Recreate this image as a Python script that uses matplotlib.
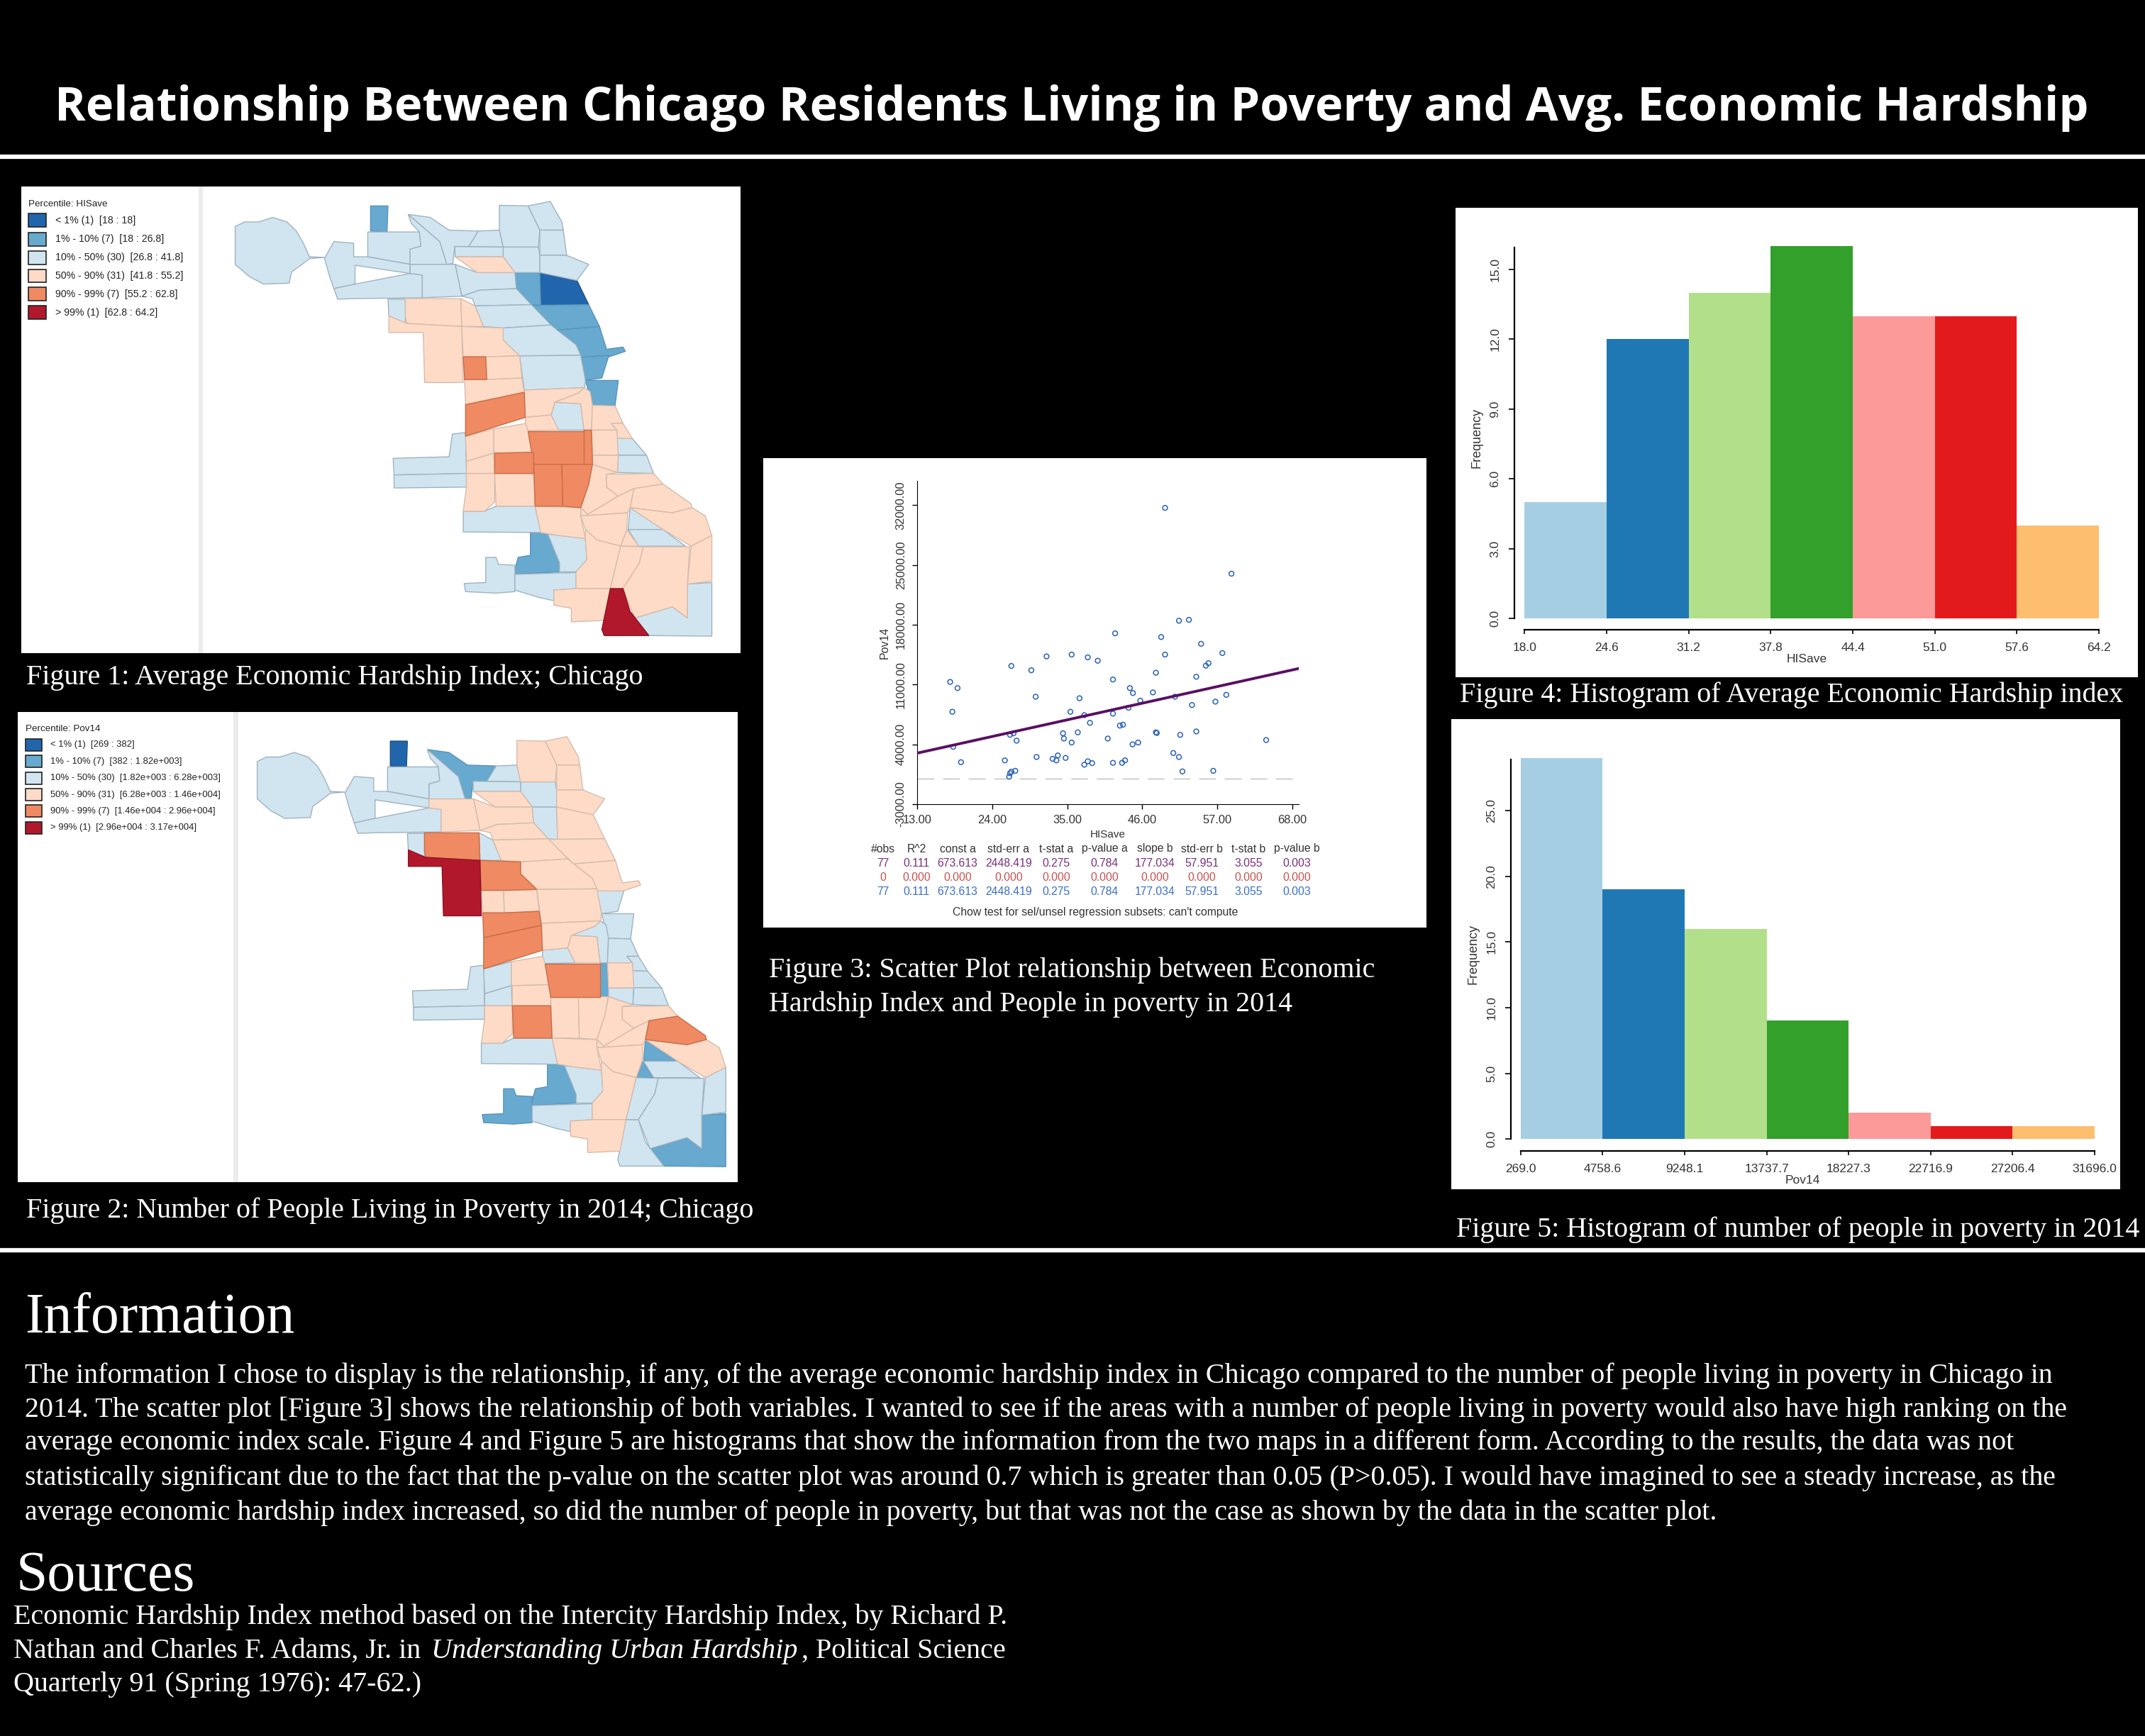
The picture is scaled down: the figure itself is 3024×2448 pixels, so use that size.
import numpy as np
import matplotlib
matplotlib.use("Agg")
import matplotlib.pyplot as plt
from matplotlib.patches import Polygon, Rectangle

W, H = 3024, 2448
SANS = "Liberation Sans"
SERIF = "Liberation Serif"

title = "Relationship Between Chicago Residents Living in Poverty and Avg. Economic Hardship"

# scatter, HISave vs Pov14
hisave = [49.35, 59.09, 51.39, 52.85, 42.03, 48.78, 54.63, 57.75, 49.35, 35.66, 31.97, 38.02, 39.48, 55.72,
          55.33, 26.81, 29.74, 48.01, 53.93, 41.71, 17.84, 18.92, 44.19, 44.64, 47.57, 30.38, 50.81, 58.33,
          36.81, 45.72, 56.73, 53.30, 44.0, 18.16, 35.47, 41.71, 37.51, 38.34, 43.18, 42.73, 36.55, 53.93,
          48.01, 48.14, 27.13, 34.39, 26.62, 51.58, 34.52, 40.95, 27.58, 64.18, 35.66, 45.40, 44.58, 18.28,
          50.56, 33.63, 30.51, 51.39, 34.77, 32.86, 25.86, 33.43, 43.49, 19.43, 38.02, 41.71, 38.66, 43.05,
          37.51, 27.39, 56.42, 51.90, 26.81, 26.62, 26.50]
pov14 = [31684, 23980, 18472, 18580, 16996, 16564, 15772, 14692, 14512, 14512, 14296, 14188, 13792, 13504,
         13216, 13180, 12676, 12388, 11920, 11596, 11308, 10588, 10588, 10012, 10084, 9580, 9580, 9796,
         9400, 9112, 9004, 8608, 8284, 7816, 7816, 7600, 7420, 6520, 6304, 6196, 5404, 5512,
         5404, 5332, 5296, 5296, 5116, 5116, 4684, 4684, 4432, 4504, 4216, 4216, 4000, 3712,
         2992, 2704, 2524, 2524, 2416, 2308, 2128, 2128, 2128, 1912, 2020, 1840, 1804, 1840,
         1624, 904, 904, 832, 796, 616, 220]
const_a = 673.613
slope_b = 177.034
scatter_xticks = [13, 24, 35, 46, 57, 68]
scatter_yticks = [-3000, 4000, 11000, 18000, 25000, 32000]

table_head = ["#obs", "R^2", "const a", "std-err a", "t-stat a", "p-value a", "slope b", "std-err b", "t-stat b", "p-value b"]
table_all = ["77", "0.111", "673.613", "2448.419", "0.275", "0.784", "177.034", "57.951", "3.055", "0.003"]
table_sel = ["0", "0.000", "0.000", "0.000", "0.000", "0.000", "0.000", "0.000", "0.000", "0.000"]
table_unsel = ["77", "0.111", "673.613", "2448.419", "0.275", "0.784", "177.034", "57.951", "3.055", "0.003"]

# histograms
paired = ["#a6cee3", "#1f78b4", "#b2df8a", "#33a02c", "#fb9a99", "#e31a1c", "#fdbf6f"]
hist4_edges = [18.0, 24.6, 31.2, 37.8, 44.4, 51.0, 57.6, 64.2]
hist4_counts = [5, 12, 14, 16, 13, 13, 4]
hist4_yticks = [0, 3, 6, 9, 12, 15]
hist5_edges = [269.0, 4758.6, 9248.1, 13737.7, 18227.3, 22716.9, 27206.4, 31696.0]
hist5_counts = [29, 19, 16, 9, 2, 1, 1]
hist5_yticks = [0, 5, 10, 15, 20, 25]

# maps: community areas, with class per map
class_colors = ["#2166ac", "#67a9cf", "#d1e5f0", "#fddbc7", "#ef8a62", "#b2182b"]
class_edges = ["#1d4f80", "#5a94bb", "#9fb2c1", "#d6bcac", "#c96d48", "#8e1322"]
legend1 = ["< 1% (1)  [18 : 18]", "1% - 10% (7)  [18 : 26.8]", "10% - 50% (30)  [26.8 : 41.8]",
           "50% - 90% (31)  [41.8 : 55.2]", "90% - 99% (7)  [55.2 : 62.8]", "> 99% (1)  [62.8 : 64.2]"]
legend2 = ["< 1% (1)  [269 : 382]", "1% - 10% (7)  [382 : 1.82e+003]", "10% - 50% (30)  [1.82e+003 : 6.28e+003]",
           "50% - 90% (31)  [6.28e+003 : 1.46e+004]", "90% - 99% (7)  [1.46e+004 : 2.96e+004]",
           "> 99% (1)  [2.96e+004 : 3.17e+004]"]

areas = {
    "rogers": [(1093, 72), (1140, 57), (1165, 125), (1168, 152), (1118, 152)],
    "west_ridge": [(1032, 70), (1093, 72), (1118, 152), (1115, 208), (1040, 208), (1032, 152)],
    "edgewater": [(1118, 152), (1168, 152), (1175, 235), (1118, 235)],
    "lincoln_sq": [(1040, 208), (1115, 208), (1118, 235), (1118, 292), (1065, 292), (1040, 240)],
    "uptown": [(1118, 235), (1175, 235), (1222, 265), (1197, 318), (1118, 292)],
    "north_center": [(1065, 292), (1118, 292), (1120, 400), (1100, 398), (1068, 345)],
    "lake_view": [(1118, 292), (1197, 318), (1222, 398), (1120, 400)],
    "lincoln_park": [(1100, 400), (1222, 398), (1245, 470), (1155, 482), (1140, 460)],
    "near_north": [(1155, 482), (1245, 470), (1260, 545), (1295, 538), (1300, 552), (1262, 572), (1205, 572), (1195, 530)],
    "loop": [(1205, 572), (1265, 565), (1250, 640), (1215, 648)],
    "near_south": [(1215, 648), (1285, 648), (1278, 732), (1230, 730)],
    "edison": [(758, 72), (795, 72), (793, 158), (758, 155)],
    "norwood": [(752, 158), (793, 158), (862, 158), (865, 205), (842, 215), (842, 265), (752, 240)],
    "ohare": [(470, 140), (490, 125), (520, 125), (550, 110), (580, 125), (600, 155), (615, 195), (628, 240), (660, 242),
              (628, 246), (615, 262), (590, 290), (585, 327), (530, 330), (500, 305), (470, 265)],
    "ohare_east": [(660, 245), (680, 190), (722, 195), (722, 240), (752, 240), (842, 265), (842, 295), (725, 268), (725, 330),
                   (680, 345), (670, 300)],
    "dunning": [(680, 345), (725, 330), (842, 295), (868, 300), (868, 375), (722, 378), (688, 380)],
    "forest_glen": [(838, 100), (885, 110), (925, 152), (987, 155), (967, 206), (937, 206), (933, 262), (920, 265), (905, 190)],
    "jefferson": [(842, 215), (865, 205), (862, 158), (845, 130), (838, 100), (905, 190), (920, 265), (842, 265)],
    "north_park": [(987, 155), (1032, 152), (1040, 208), (967, 206)],
    "albany": [(937, 206), (1040, 208), (1040, 240), (938, 240)],
    "irving": [(938, 240), (1040, 240), (1065, 292), (985, 292)],
    "avondale": [(938, 265), (985, 292), (1065, 292), (1068, 345), (990, 350), (952, 370)],
    "logan": [(990, 350), (1068, 345), (1100, 398), (980, 402), (975, 378), (952, 370)],
    "portage": [(842, 265), (920, 265), (938, 265), (952, 370), (868, 375), (868, 300), (842, 295)],
    "montclare": [(795, 380), (832, 380), (832, 460), (797, 435)],
    "austin_north": [(832, 378), (950, 378), (952, 470), (835, 460), (832, 440)],
    "austin_south": [(797, 435), (835, 460), (952, 470), (955, 655), (873, 655), (870, 490), (797, 490)],
    "hermosa": [(950, 378), (980, 402), (998, 470), (952, 470)],
    "humboldt_n": [(980, 402), (1100, 398), (1142, 465), (1040, 475), (998, 470)],
    "humboldt": [(952, 470), (1040, 475), (1040, 515), (1075, 567), (1003, 570), (955, 570)],
    "west_town": [(1040, 475), (1142, 465), (1155, 482), (1195, 530), (1205, 565), (1075, 567), (1040, 515)],
    "e_garfield": [(955, 570), (1003, 570), (1005, 645), (958, 645)],
    "n_lawndale": [(1003, 570), (1075, 567), (1080, 640), (1005, 645)],
    "near_west": [(1075, 567), (1205, 565), (1215, 648), (1213, 672), (1085, 680)],
    "lawndale": [(958, 645), (1005, 645), (1080, 640), (1085, 687), (960, 728)],
    "s_lawndale": [(960, 728), (1085, 687), (1087, 770), (960, 832)],
    "lower_west": [(1085, 680), (1213, 672), (1200, 690), (1150, 720), (1142, 762), (1087, 770)],
    "bridgeport": [(1142, 762), (1150, 720), (1205, 725), (1212, 812), (1158, 812)],
    "mckinley": [(1087, 770), (1142, 762), (1158, 812), (1088, 814)],
    "armour": [(1200, 690), (1213, 672), (1225, 685), (1230, 730), (1228, 812), (1212, 812), (1205, 725), (1150, 720)],
    "douglas": [(1230, 730), (1278, 732), (1295, 790), (1270, 790), (1282, 812), (1228, 812)],
    "oakland": [(1270, 790), (1295, 790), (1315, 840), (1282, 838), (1282, 812)],
    "fuller": [(1212, 812), (1228, 812), (1230, 925), (1212, 925)],
    "grand_blvd": [(1228, 812), (1282, 812), (1285, 895), (1230, 895)],
    "kenwood": [(1282, 838), (1315, 840), (1345, 895), (1285, 895)],
    "wash_park": [(1230, 895), (1285, 895), (1283, 952), (1230, 925)],
    "hyde_park": [(1285, 895), (1345, 895), (1360, 955), (1283, 952)],
    "new_city": [(1093, 815), (1212, 815), (1212, 925), (1105, 925)],
    "archer": [(960, 832), (1020, 808), (1020, 888), (962, 915)],
    "brighton": [(1020, 808), (1088, 790), (1093, 815), (1105, 885), (1020, 888)],
    "garfield_n": [(806, 905), (925, 900), (932, 825), (960, 820), (962, 955), (808, 960)],
    "garfield_s": [(808, 960), (962, 955), (962, 1000), (808, 1003)],
    "west_elsdon": [(962, 915), (1020, 888), (1022, 955), (962, 955)],
    "gage_park": [(1022, 888), (1105, 885), (1105, 955), (1022, 955)],
    "west_lawn": [(962, 955), (1022, 955), (1022, 1050), (1000, 1080), (955, 1080), (962, 1000)],
    "ashburn": [(1022, 955), (1105, 955), (1108, 1063), (1025, 1063)],
    "w_englewood": [(1105, 925), (1165, 925), (1167, 1063), (1108, 1063)],
    "englewood": [(1165, 925), (1230, 925), (1222, 990), (1205, 1068), (1167, 1063)],
    "grand_cross": [(1230, 925), (1283, 952), (1260, 958), (1260, 1000), (1285, 1030), (1220, 1090), (1205, 1068), (1222, 990)],
    "south_shore": [(1260, 958), (1360, 955), (1380, 990), (1318, 1005), (1285, 1030), (1260, 1000)],
    "south_shore_e": [(1318, 1005), (1380, 990), (1440, 1055), (1442, 1068), (1400, 1085), (1310, 1068)],
    "chatham": [(1205, 1068), (1220, 1090), (1285, 1030), (1318, 1005), (1310, 1068), (1305, 1085), (1205, 1095)],
    "avalon": [(1310, 1068), (1380, 1140), (1306, 1140)],
    "south_chicago": [(1310, 1068), (1400, 1085), (1442, 1068), (1470, 1095), (1484, 1160), (1440, 1195), (1380, 1140)],
    "burnside": [(1303, 1140), (1328, 1195), (1290, 1195)],
    "calumet": [(1306, 1140), (1380, 1140), (1428, 1195), (1328, 1195)],
    "east_side": [(1440, 1195), (1484, 1160), (1484, 1310), (1432, 1320)],
    "clearing": [(955, 1080), (1000, 1080), (1025, 1063), (1108, 1063), (1120, 1150), (955, 1148)],
    "chicago_lawn": [(1108, 1063), (1205, 1068), (1205, 1095), (1215, 1170), (1160, 1160), (1120, 1150)],
    "auburn": [(1205, 1095), (1305, 1085), (1303, 1140), (1290, 1195), (1240, 1175), (1215, 1140)],
    "morgan_park": [(1215, 1140), (1240, 1175), (1290, 1195), (1268, 1335), (1195, 1335), (1195, 1280), (1218, 1240), (1215, 1170)],
    "beverly": [(1098, 1150), (1135, 1150), (1160, 1250), (1160, 1280), (1062, 1288), (1072, 1232), (1098, 1225)],
    "mt_greenwood": [(957, 1318), (1003, 1315), (1003, 1232), (1025, 1232), (1030, 1255), (1065, 1258), (1065, 1345), (1025, 1350), (960, 1345)],
    "wash_heights": [(1135, 1155), (1215, 1170), (1218, 1240), (1195, 1280), (1160, 1280), (1160, 1250)],
    "morgan_s": [(1065, 1288), (1195, 1282), (1195, 1335), (1148, 1340), (1148, 1375), (1118, 1365), (1065, 1340)],
    "west_pullman": [(1148, 1340), (1195, 1335), (1268, 1335), (1255, 1440), (1185, 1445), (1185, 1400), (1148, 1390)],
    "riverdale": [(1268, 1335), (1295, 1335), (1310, 1410), (1350, 1490), (1255, 1490), (1250, 1470)],
    "pullman": [(1290, 1195), (1338, 1197), (1330, 1250), (1295, 1335), (1268, 1335)],
    "roseland": [(1338, 1197), (1437, 1197), (1432, 1320), (1432, 1432), (1400, 1395), (1320, 1432), (1295, 1335), (1330, 1250)],
    "hegewisch": [(1432, 1320), (1484, 1315), (1484, 1492), (1350, 1490), (1320, 1432), (1400, 1395), (1432, 1432)],
}

# class index per area: (HISave map, Pov14 map)
area_class = {
    "rogers": (2, 3), "west_ridge": (2, 3), "edgewater": (2, 3), "lincoln_sq": (2, 2), "uptown": (2, 3),
    "north_center": (1, 2), "lake_view": (0, 3), "lincoln_park": (1, 3), "near_north": (1, 3), "loop": (1, 2),
    "near_south": (1, 2), "edison": (1, 0), "norwood": (2, 2), "ohare": (2, 2), "ohare_east": (2, 2),
    "dunning": (2, 2), "forest_glen": (2, 1), "jefferson": (2, 2), "north_park": (2, 2), "albany": (2, 2),
    "irving": (3, 3), "avondale": (2, 3), "logan": (2, 3), "portage": (2, 3), "montclare": (2, 2),
    "austin_north": (3, 4), "austin_south": (3, 5), "hermosa": (3, 2), "humboldt_n": (2, 3), "humboldt": (3, 4),
    "west_town": (2, 3), "e_garfield": (4, 3), "n_lawndale": (3, 3), "near_west": (2, 3), "lawndale": (3, 4),
    "s_lawndale": (4, 4), "lower_west": (3, 3), "bridgeport": (2, 3), "mckinley": (3, 2), "armour": (3, 2),
    "douglas": (3, 2), "oakland": (3, 2), "fuller": (4, 1), "grand_blvd": (3, 3), "kenwood": (2, 2),
    "wash_park": (3, 2), "hyde_park": (2, 2), "new_city": (4, 4), "archer": (3, 2), "brighton": (3, 3),
    "garfield_n": (2, 2), "garfield_s": (2, 2), "west_elsdon": (3, 2), "gage_park": (4, 3), "west_lawn": (3, 3),
    "ashburn": (3, 4), "w_englewood": (4, 3), "englewood": (4, 3), "grand_cross": (3, 3), "south_shore": (3, 3),
    "south_shore_e": (3, 4), "chatham": (3, 3), "avalon": (2, 1), "south_chicago": (3, 3), "burnside": (3, 1),
    "calumet": (2, 2), "east_side": (3, 2), "clearing": (2, 2), "chicago_lawn": (3, 3), "auburn": (3, 3),
    "morgan_park": (3, 3), "beverly": (1, 1), "mt_greenwood": (2, 1), "wash_heights": (2, 2), "morgan_s": (2, 2),
    "west_pullman": (3, 3), "riverdale": (5, 2), "pullman": (3, 2), "roseland": (3, 2), "hegewisch": (2, 1),
}

body_lines = [
    "The information I chose to display is the relationship, if any, of the average economic hardship index in Chicago compared to the number of people living in poverty in Chicago in",
    "2014. The scatter plot [Figure 3] shows the relationship of both variables. I wanted to see if the areas with a number of people living in poverty would also have high ranking on the",
    "average economic index scale. Figure 4 and Figure 5 are histograms that show the information from the two maps in a different form. According to the results, the data was not",
    "statistically significant due to the fact that the p-value on the scatter plot was around 0.7 which is greater than 0.05 (P>0.05). I would have imagined to see a steady increase, as the",
    "average economic hardship index increased, so did the number of people in poverty, but that was not the case as shown by the data in the scatter plot.",
]


def add_ax(fig, left, top, right, bottom):
    return fig.add_axes([left / W, 1 - bottom / H, (right - left) / W, (bottom - top) / H])


def panel(fig, left, top, right, bottom):
    ax = add_ax(fig, left, top, right, bottom)
    ax.set_xticks([])
    ax.set_yticks([])
    ax.set_facecolor("white")
    for s in ax.spines.values():
        s.set_visible(False)
    return ax


def draw_map(fig, rect, xlim, ylim, which, legend_title, labels, label_size, sw_x, sw_w, sw_tops, sw_h, text_x, bar_x, to_map):
    ax = panel(fig, *rect)
    ax.set_xlim(*xlim)
    ax.set_ylim(*ylim)
    ax.add_patch(Rectangle((bar_x, ylim[1]), 10, ylim[0] - ylim[1], color="#ececec", lw=0))
    # low classes first so the stronger outlines stay on top
    names = sorted(areas, key=lambda n: area_class[n][which])
    for name in names:
        c = area_class[name][which]
        pts = [to_map(p) for p in areas[name]]
        ax.add_patch(Polygon(pts, closed=True, facecolor=class_colors[c], edgecolor=class_edges[c], lw=1.0))
    ax.text(sw_x, sw_tops[0] - 31, legend_title, fontsize=9.6, family=SANS, color="#222222", va="center")
    for i in range(6):
        ax.add_patch(Rectangle((sw_x, sw_tops[i]), sw_w, sw_h, facecolor=class_colors[i], edgecolor="#222222", lw=1.2))
        ax.text(text_x, sw_tops[i] + sw_h / 2, labels[i], fontsize=label_size, family=SANS, color="#222222", va="center")
    return ax


def draw_hist(fig, rect, edges, counts, yticks, xlim, ylim, xlabel, xlabels, top_val):
    ax = add_ax(fig, *rect)
    ax.set_facecolor("none")
    ax.bar(edges[:-1], counts, width=np.diff(edges), align="edge", color=paired, lw=0)
    ax.set_xlim(*xlim)
    ax.set_ylim(*ylim)
    for s in ["top", "right"]:
        ax.spines[s].set_visible(False)
    ax.spines["bottom"].set_bounds(edges[0], edges[-1])
    ax.spines["left"].set_bounds(0, top_val)
    ax.spines["bottom"].set_linewidth(1.6)
    ax.spines["left"].set_linewidth(1.6)
    ax.set_xticks(edges)
    ax.set_xticklabels(xlabels, fontsize=12.5, family=SANS, color="#333333")
    ax.set_yticks(yticks)
    ax.set_yticklabels(["%.1f" % v for v in yticks], fontsize=12.5, family=SANS, color="#333333", rotation=90, va="center")
    ax.tick_params(axis="x", length=4, width=1.2, pad=9)
    ax.tick_params(axis="y", length=6, width=1.2, pad=8)
    ax.set_xlabel(xlabel, fontsize=12.5, family=SANS, color="#333333", labelpad=1)
    ax.set_ylabel("Frequency", fontsize=13, family=SANS, color="#333333", labelpad=7)
    return ax


def draw_runs(ax, fig, x, y, runs, size):
    # runs of (text, style), placed one after the other
    renderer = fig.canvas.get_renderer()
    for txt, style in runs:
        t = ax.text(x, y, txt, color="white", family=SERIF, style=style, fontsize=size, va="center")
        x = ax.transData.inverted().transform((t.get_window_extent(renderer).x1, 0))[0] + 5


fig = plt.figure(figsize=(W / 100, H / 100), dpi=100, facecolor="black")

# maps
draw_map(fig, (30, 263, 1044, 921), (15, 1545), (1548, 8), 0, "Percentile: HISave", legend1, 10.2,
         30, 38, [98, 160, 221, 281, 341, 402], 44, 87, 392, lambda p: p)
draw_map(fig, (25, 1004, 1040, 1667), (8, 1538), (1538, 10), 1, "Percentile: Pov14", legend2, 9.4,
         25, 35, [97, 151, 205, 259, 313, 367], 39, 78, 467,
         lambda p: (514 + (p[0] - 467) * 0.982, 90 + (p[1] - 57) * 0.974))

# scatter
panel(fig, 1076, 646, 2011, 1308)
ax3 = add_ax(fig, 1293, 678, 1831, 1134)
ax3.set_facecolor("none")
ax3.set_xlim(13, 68.96)
ax3.set_ylim(-3000, 34852)
ax3.axhline(0, color="#bdbdbd", lw=1.0, dashes=(17, 9))
ax3.scatter(hisave, pov14, s=24, facecolors="none", edgecolors="#2a62b8", linewidths=1.1, zorder=3)
reg_x = np.array([13, 68.96])
ax3.plot(reg_x, const_a + slope_b * reg_x, color="#5a0f62", lw=2.8, zorder=4)
for s in ["top", "right"]:
    ax3.spines[s].set_visible(False)
ax3.set_xticks(scatter_xticks)
ax3.set_xticklabels(["%.2f" % v for v in scatter_xticks], fontsize=11.8, family=SANS, color="#333333")
ax3.set_yticks(scatter_yticks)
ax3.set_yticklabels(["%.2f" % v for v in scatter_yticks], fontsize=11.8, family=SANS, color="#333333", rotation=90, va="center")
ax3.tick_params(axis="both", length=5, width=1, pad=6)
ax3.set_xlabel("HISave", fontsize=11, family=SANS, color="#333333", labelpad=4)
ax3.set_ylabel("Pov14", fontsize=11.5, family=SANS, color="#333333", labelpad=6)

# histograms
panel(fig, 2052, 293, 3014, 955)
draw_hist(fig, (2135, 347, 2959, 888), hist4_edges, hist4_counts, hist4_yticks, (17.18, 64.2), (-0.475, 16),
          "HISave", ["%.1f" % v for v in hist4_edges], 15.95)
panel(fig, 2046, 1014, 2989, 1677)
draw_hist(fig, (2130, 1069, 2953, 1623), hist5_edges, hist5_counts, hist5_yticks, (-267, 31696), (-0.91, 29),
          "Pov14", ["%.1f" % v for v in hist5_edges], 28.9)

# everything in figure pixels on top
top = fig.add_axes([0, 0, 1, 1])
top.set_xlim(0, W)
top.set_ylim(H, 0)
top.axis("off")
top.patch.set_visible(False)

top.text(W / 2 - 1, 152, title, color="white", family="Open Sans", weight="bold", fontsize=47.9, ha="center", va="center")
top.plot([0, W], [221, 221], color="white", lw=4.5, solid_capstyle="butt")
top.plot([0, W], [1763, 1763], color="white", lw=4.5, solid_capstyle="butt")

# regression table under the scatter
col_x = [1245, 1292, 1350, 1422, 1489, 1557, 1628, 1694, 1760, 1828]
rows = [(table_head, 1197, "#333333"), (table_all, 1218, "#7a2f7d"), (table_sel, 1238, "#c9504f"), (table_unsel, 1258, "#3a6fc6")]
for vals, y, col in rows:
    for cx, v in zip(col_x, vals):
        top.text(cx, y, v, fontsize=11.3, family=SANS, color=col, ha="center", va="center")
top.text(1544, 1287, "Chow test for sel/unsel regression subsets: can't compute", fontsize=11.3, family=SANS,
         color="#333333", ha="center", va="center")

captions = [
    (37, 955, "Figure 1: Average Economic Hardship Index; Chicago"),
    (37, 1707, "Figure 2: Number of People Living in Poverty in 2014; Chicago"),
    (1084, 1368, "Figure 3: Scatter Plot relationship between Economic"),
    (1084, 1416, "Hardship Index and People in poverty in 2014"),
    (2058, 980, "Figure 4: Histogram of Average Economic Hardship index"),
    (2053, 1734, "Figure 5: Histogram of number of people in poverty in 2014"),
]
for x, y, s in captions:
    top.text(x, y, s, color="white", family=SERIF, fontsize=28.8, va="center")

top.text(35, 1860, "Information", color="white", family=SERIF, fontsize=57.3, va="center")
for y, s in zip([1940, 1988, 2034, 2084, 2133], body_lines):
    top.text(35, y, s, color="white", family=SERIF, fontsize=28.8, va="center")

top.text(23, 2224, "Sources", color="white", family=SERIF, fontsize=57.3, va="center")
fig.canvas.draw()
draw_runs(top, fig, 19, 2280, [("Economic Hardship Index method based on the Intercity Hardship Index, by Richard P.", "normal")], 28.9)
draw_runs(top, fig, 19, 2328, [("Nathan and Charles F. Adams, Jr. in ", "normal"), ("Understanding Urban Hardship", "italic"), (", Political Science", "normal")], 28.9)
draw_runs(top, fig, 19, 2375, [("Quarterly 91 (Spring 1976): 47-62.)", "normal")], 28.9)

fig.savefig("out.png", dpi=100, facecolor="black")
